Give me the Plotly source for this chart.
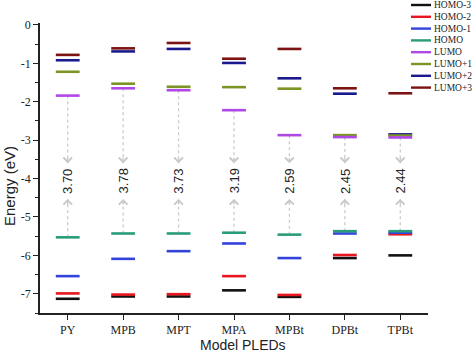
import plotly.graph_objects as go

models = ["PY", "MPB", "MPT", "MPA", "MPBt", "DPBt", "TPBt"]
levels = ["HOMO-3", "HOMO-2", "HOMO-1", "HOMO", "LUMO", "LUMO+1", "LUMO+2", "LUMO+3"]

homo_3 = [-7.13, -7.07, -7.07, -6.91, -7.08, -6.07, -6.00]
homo_2 = [-6.99, -7.02, -7.01, -6.54, -7.03, -5.99, -5.45]
homo_1 = [-6.54, -6.09, -5.89, -5.69, -6.07, -5.43, -5.41]
homo = [-5.53, -5.43, -5.43, -5.41, -5.46, -5.37, -5.37]
lumo = [-1.84, -1.65, -1.70, -2.22, -2.87, -2.92, -2.93]
lumo_1 = [-1.22, -1.53, -1.61, -1.62, -1.66, -2.87, -2.88]
lumo_2 = [-0.92, -0.69, -0.625, -0.99, -1.39, -1.79, -2.85]
lumo_3 = [-0.78, -0.61, -0.47, -0.88, -0.625, -1.65, -1.78]

gap_labels = ["3.70", "3.78", "3.73", "3.19", "2.59", "2.45", "2.44"]

y_tick_vals = [0, -1, -2, -3, -4, -5, -6, -7]
y_tick_text = ["0", "-1", "-2", "-3", "-4", "-5", "-6", "-7"]

series = {
    "HOMO-3": homo_3, "HOMO-2": homo_2, "HOMO-1": homo_1, "HOMO": homo,
    "LUMO": lumo, "LUMO+1": lumo_1, "LUMO+2": lumo_2, "LUMO+3": lumo_3,
}
colors = {
    "HOMO-3": "#111111", "HOMO-2": "#e8161e", "HOMO-1": "#3344dd", "HOMO": "#2a9c7a",
    "LUMO": "#b048e6", "LUMO+1": "#7b9424", "LUMO+2": "#1a1a8e", "LUMO+3": "#7c1212",
}

HALF = 0.215
LBL_Y = -4.07
UP_TIP = -3.60
LO_TIP = -4.53

fig = go.Figure()

# dotted gap lines
for i in range(len(models)):
    fig.add_trace(go.Scatter(
        x=[i, i, None, i, i], y=[lumo[i], UP_TIP, None, homo[i], LO_TIP],
        mode="lines", line=dict(color="#cbcbcb", width=1.3, dash="dot"),
        showlegend=False, hoverinfo="skip"))

draw_order = ["HOMO-3", "HOMO-2", "HOMO-1", "LUMO+3", "LUMO+2", "LUMO+1", "LUMO", "HOMO"]
for name in draw_order:
    vals = series[name]
    xs, ys = [], []
    for i, v in enumerate(vals):
        xs += [i - HALF, i + HALF, None]
        ys += [v, v, None]
    fig.add_trace(go.Scatter(x=xs, y=ys, mode="lines", name=name,
                             line=dict(color=colors[name], width=2.6),
                             showlegend=False, hoverinfo="skip"))

annotations = []
for i, g in enumerate(gap_labels):
    annotations.append(dict(x=i, y=LBL_Y, text=g, showarrow=False, textangle=-90,
                            font=dict(family="Arial", size=13, color="#222222"),
                            xref="x", yref="y"))
    annotations.append(dict(x=i, y=UP_TIP, ax=0, ay=-7, text="", showarrow=True,
                            arrowhead=4, arrowsize=1.4, arrowwidth=1.2, arrowcolor="#c8c8c8",
                            xref="x", yref="y"))
    annotations.append(dict(x=i, y=LO_TIP, ax=0, ay=7, text="", showarrow=True,
                            arrowhead=4, arrowsize=1.4, arrowwidth=1.2, arrowcolor="#c8c8c8",
                            xref="x", yref="y"))

# plot area in pixels
L, R, T, B = 40, 428, 23, 313
W, H = R - L, B - T

def px_x(p):
    return (p - L) / W

def px_y(p):
    return (B - p) / H

shapes = []
for k, name in enumerate(levels):
    py = 5 + 11.8 * k
    shapes.append(dict(type="line", xref="paper", yref="paper",
                       x0=px_x(411), x1=px_x(431), y0=px_y(py), y1=px_y(py),
                       line=dict(color=colors[name], width=2.4)))
    annotations.append(dict(x=px_x(433), y=px_y(py), xref="paper", yref="paper",
                            text=name, showarrow=False, xanchor="left", yanchor="middle",
                            borderpad=0,
                            font=dict(family="Liberation Serif", size=9.5, color="#222222")))

# axis titles
annotations.append(dict(x=px_x(9), y=px_y(186), xref="paper", yref="paper", text="Energy (eV)",
                        showarrow=False, textangle=-90, xanchor="center", yanchor="middle",
                        font=dict(family="Arial", size=15, color="#222222")))
annotations.append(dict(x=px_x(243), y=px_y(345), xref="paper", yref="paper", text="Model PLEDs",
                        showarrow=False, xanchor="center", yanchor="middle",
                        font=dict(family="Arial", size=14, color="#222222")))

fig.update_layout(
    width=474, height=352,
    margin=dict(l=L, r=474 - R, t=T, b=352 - B),
    paper_bgcolor="white", plot_bgcolor="white",
    showlegend=False,
    annotations=annotations, shapes=shapes,
    xaxis=dict(range=[-0.5, 6.5], tickmode="array", tickvals=list(range(len(models))),
               ticktext=models, ticks="outside", ticklen=5, tickwidth=1.2, tickcolor="#222",
               showline=True, linecolor="#222", linewidth=1.5, showgrid=False, zeroline=False,
               tickfont=dict(family="Liberation Serif", size=12, color="#222222")),
    yaxis=dict(range=[-7.5, 0.05], tickmode="array", tickvals=y_tick_vals, ticktext=y_tick_text,
               ticks="outside", ticklen=5, tickwidth=1.2, tickcolor="#222",
               minor=dict(tickmode="linear", tick0=0, dtick=0.5, ticks="outside", ticklen=3,
                          tickcolor="#222", tickwidth=1),
               showline=True, linecolor="#222", linewidth=1.5, showgrid=False, zeroline=False,
               tickfont=dict(family="Liberation Serif", size=12, color="#222222")),
)

fig.write_html("out.html")
